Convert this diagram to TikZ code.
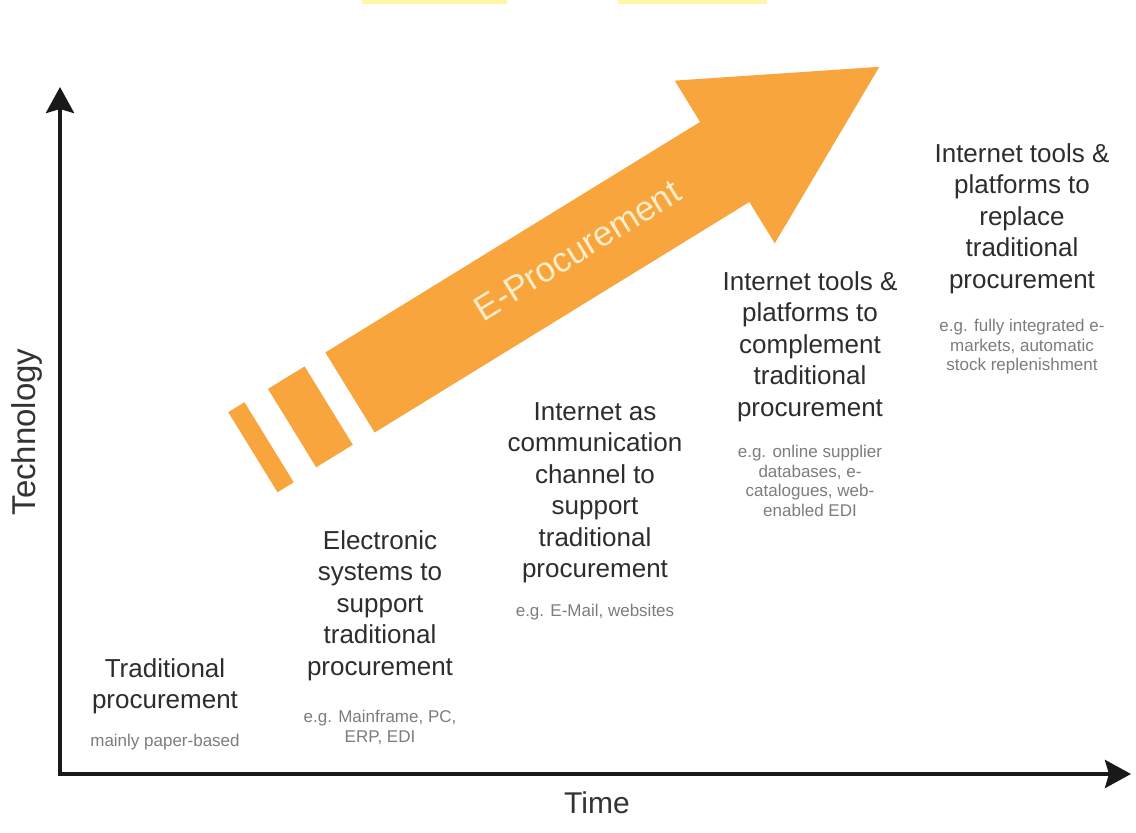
\documentclass[tikz,border=0pt]{standalone}
\usepackage{fontspec}
\setmainfont{Liberation Sans}
\usetikzlibrary{arrows.meta}
\definecolor{arrorange}{RGB}{247,165,60}
\definecolor{maintext}{RGB}{45,45,45}
\definecolor{smalltext}{RGB}{125,125,125}
\definecolor{paleyellow}{RGB}{255,246,170}
\definecolor{cream}{RGB}{253,236,200}
\tikzset{
  mainlbl/.style={align=center, inner sep=0pt, text=maintext, font=\fontsize{26}{31.5}\selectfont},
  smalllbl/.style={align=center, inner sep=0pt, text=smalltext, font=\fontsize{17}{19.5}\selectfont},
  axis/.style={line width=4pt, draw=black!90, -{Stealth[length=26pt,width=28pt,inset=4pt]}},
  axislbl/.style={inner sep=0pt, text=black!80},
  piece/.style={fill=arrorange, draw=none}
}
\begin{document}
\begin{tikzpicture}[x=1pt,y=1pt]
\useasboundingbox (0,0) rectangle (1136,833);
\fill[white] (0,0) rectangle (1136,833);
% faint bars at the top edge
\fill[paleyellow] (362,829) rectangle (507,833);
\fill[paleyellow] (618,829) rectangle (767,833);
% axes
\coordinate (O) at (60,59);
\coordinate (ytip) at (60,746);
\coordinate (xtip) at (1131,59);
\draw[axis] ([yshift=-2pt]O) -- (ytip);
\draw[axis] ([xshift=-2pt]O) -- (xtip);
\node[axislbl, rotate=90, font=\fontsize{33}{38}\selectfont] (tech) at (27,401) {Technology};
\node[axislbl, font=\fontsize{30}{36}\selectfont] (time) at (597,30) {Time};
% E-procurement arrow
\begin{scope}[shift={(350,440.5)}, rotate=31.6]
  \fill[piece] (-114,-47) rectangle (-95,47);
  \fill[piece] (-68,-46) rectangle (-25,46);
  \fill[piece] (0,47) -- (440,47) -- (440,95.5) -- (621.5,0) -- (440,-95.5) -- (440,-47) -- (0,-47) -- cycle;
  \node[rotate=31.6, text=cream, inner sep=0pt, font=\fontsize{35}{40}\selectfont] (eproc) at (268,2) {E-Procurement};
\end{scope}
% stages
\node[mainlbl] (s1) at (165,146.5) {Traditional\\procurement};
\node[smalllbl] (s1e) at (165,91) {mainly paper-based};
\node[mainlbl] (s2) at (380,227.5) {Electronic\\systems to\\support\\traditional\\procurement};
\node[smalllbl] (s2e) at (380,105.5) {e.g. Mainframe, PC,\\ERP, EDI};
\node[mainlbl] (s3) at (595,340) {Internet as\\communication\\channel to\\support\\traditional\\procurement};
\node[smalllbl] (s3e) at (595,221) {e.g. E-Mail, websites};
\node[mainlbl] (s4) at (810,486.5) {Internet tools \&\\platforms to\\complement\\traditional\\procurement};
\node[smalllbl] (s4e) at (810,352) {e.g. online supplier\\databases, e-\\catalogues, web-\\enabled EDI};
\node[mainlbl] (s5) at (1022,614.5) {Internet tools \&\\platforms to\\replace\\traditional\\procurement};
\node[smalllbl] (s5e) at (1022,486) {e.g. fully integrated e-\\markets, automatic\\stock replenishment};
\end{tikzpicture}
\end{document}
